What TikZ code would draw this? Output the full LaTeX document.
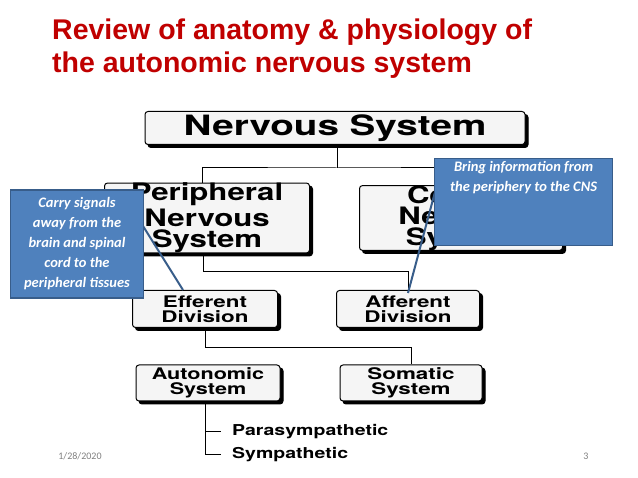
\documentclass[tikz,border=0pt]{standalone}
\usepackage{fontspec}
\usetikzlibrary{shadows}
\setmainfont{Liberation Sans}
\newfontfamily\calfnt{Carlito}
\newfontfamily\heavy{TeX Gyre Heros}
\definecolor{ttl}{RGB}{192,0,0}
\definecolor{cfill}{RGB}{79,129,189}
\definecolor{cdraw}{RGB}{56,93,138}
\begin{document}
\begin{tikzpicture}[x=1pt,y=-1pt,
  box/.style={draw=black,line width=1pt,rounded corners=3pt,fill=gray!8,
    copy shadow={shadow xshift=3pt,shadow yshift=-3pt,fill=black,draw=black},
    font=\heavy\bfseries,align=center,inner sep=0pt},
  callout/.style={draw=cdraw,line width=1.2pt,fill=cfill,text=white,font=\calfnt\bfseries\itshape\fontsize{14.5}{20}\selectfont,align=center,inner sep=2pt},
  conn/.style={line width=1pt},
  ptr/.style={draw=cdraw,line width=2pt}]
\useasboundingbox (0,0) rectangle (638,478);
\fill[white] (0,0) rectangle (638,478);
\node[anchor=north west,text=ttl,font=\bfseries\fontsize{28.5}{33}\selectfont,align=left,inner sep=0pt] (title) at (52,19) {Review of anatomy \& physiology of\\the autonomic nervous system};
\node[box,minimum width=380pt,minimum height=33pt] (ns) at (335,128) {\fontsize{28}{28}\selectfont\scalebox{1.38}[1]{Nervous System}};
\node[box,minimum width=205pt,minimum height=63pt] (pns) at (207,218) {\fontsize{24}{20}\selectfont\scalebox{1.3}[1]{\shortstack{Peripheral\\Nervous\\System}}};
\node[box,minimum width=203pt,minimum height=63pt] (cns) at (461,218) {\fontsize{24}{20}\selectfont\scalebox{1.3}[1]{\shortstack{Central\\Nervous\\System}}};
\node[box,minimum width=145pt,minimum height=37pt] (eff) at (205,309) {\fontsize{16}{12}\selectfont\scalebox{1.4}[1]{\shortstack{Efferent\\Division}}};
\node[box,minimum width=143pt,minimum height=37pt] (aff) at (408,309) {\fontsize{16}{12}\selectfont\scalebox{1.4}[1]{\shortstack{Afferent\\Division}}};
\node[box,minimum width=144pt,minimum height=36pt] (aut) at (208,383) {\fontsize{16}{12}\selectfont\scalebox{1.35}[1]{\shortstack{Autonomic\\System}}};
\node[box,minimum width=142pt,minimum height=36pt] (som) at (411,383) {\fontsize{16}{12}\selectfont\scalebox{1.4}[1]{\shortstack{Somatic\\System}}};
\node[anchor=west,font=\heavy\bfseries\fontsize{15}{15}\selectfont,inner sep=0pt] (para) at (232,432) {\scalebox{1.3}[1]{Parasympathetic}};
\node[anchor=west,font=\heavy\bfseries\fontsize{15}{15}\selectfont,inner sep=0pt] (symp) at (232,455) {\scalebox{1.3}[1]{Sympathetic}};
\coordinate (j1) at (337,168);
\coordinate (j2) at (203,272);
\coordinate (j3) at (205,348);
\coordinate (pt) at (205,432);
\coordinate (st) at (205,455);
\draw[conn] (ns.south -| j1) -- (j1);
\draw[conn] (pns.north -| 202,0) |- (j1) -| (cns.north);
\draw[conn] (pns.south -| j2) -- (j2) -| (aff.north);
\draw[conn] (eff.south -| j3) -- (j3) -| (som.north);
\draw[conn] (aut.south -| j3) -- (st) -- (221,455);
\draw[conn] (pt) -- (221,432);
\coordinate (lp) at (143,226);
\coordinate (rp) at (435,192);
\draw[ptr] (lp) -- ([xshift=-22pt]eff.north);
\draw[ptr] (rp) -- ([yshift=-3pt]aff.north);
\node[callout,minimum width=133pt,minimum height=108pt] (lc) at (77,244) {Carry signals\\away from the\\brain and spinal\\cord to the\\peripheral tissues};
\node[callout,minimum width=178pt,minimum height=87pt,anchor=north west] (rc) at (434,158) {Bring information from\\the periphery to the CNS\\[32pt]};
\node[font=\calfnt\fontsize{10}{10}\selectfont,text=gray] (date) at (80,456) {1/28/2020};
\node[font=\calfnt\fontsize{10}{10}\selectfont,text=gray] (pg) at (586,456) {3};
\end{tikzpicture}
\end{document}
